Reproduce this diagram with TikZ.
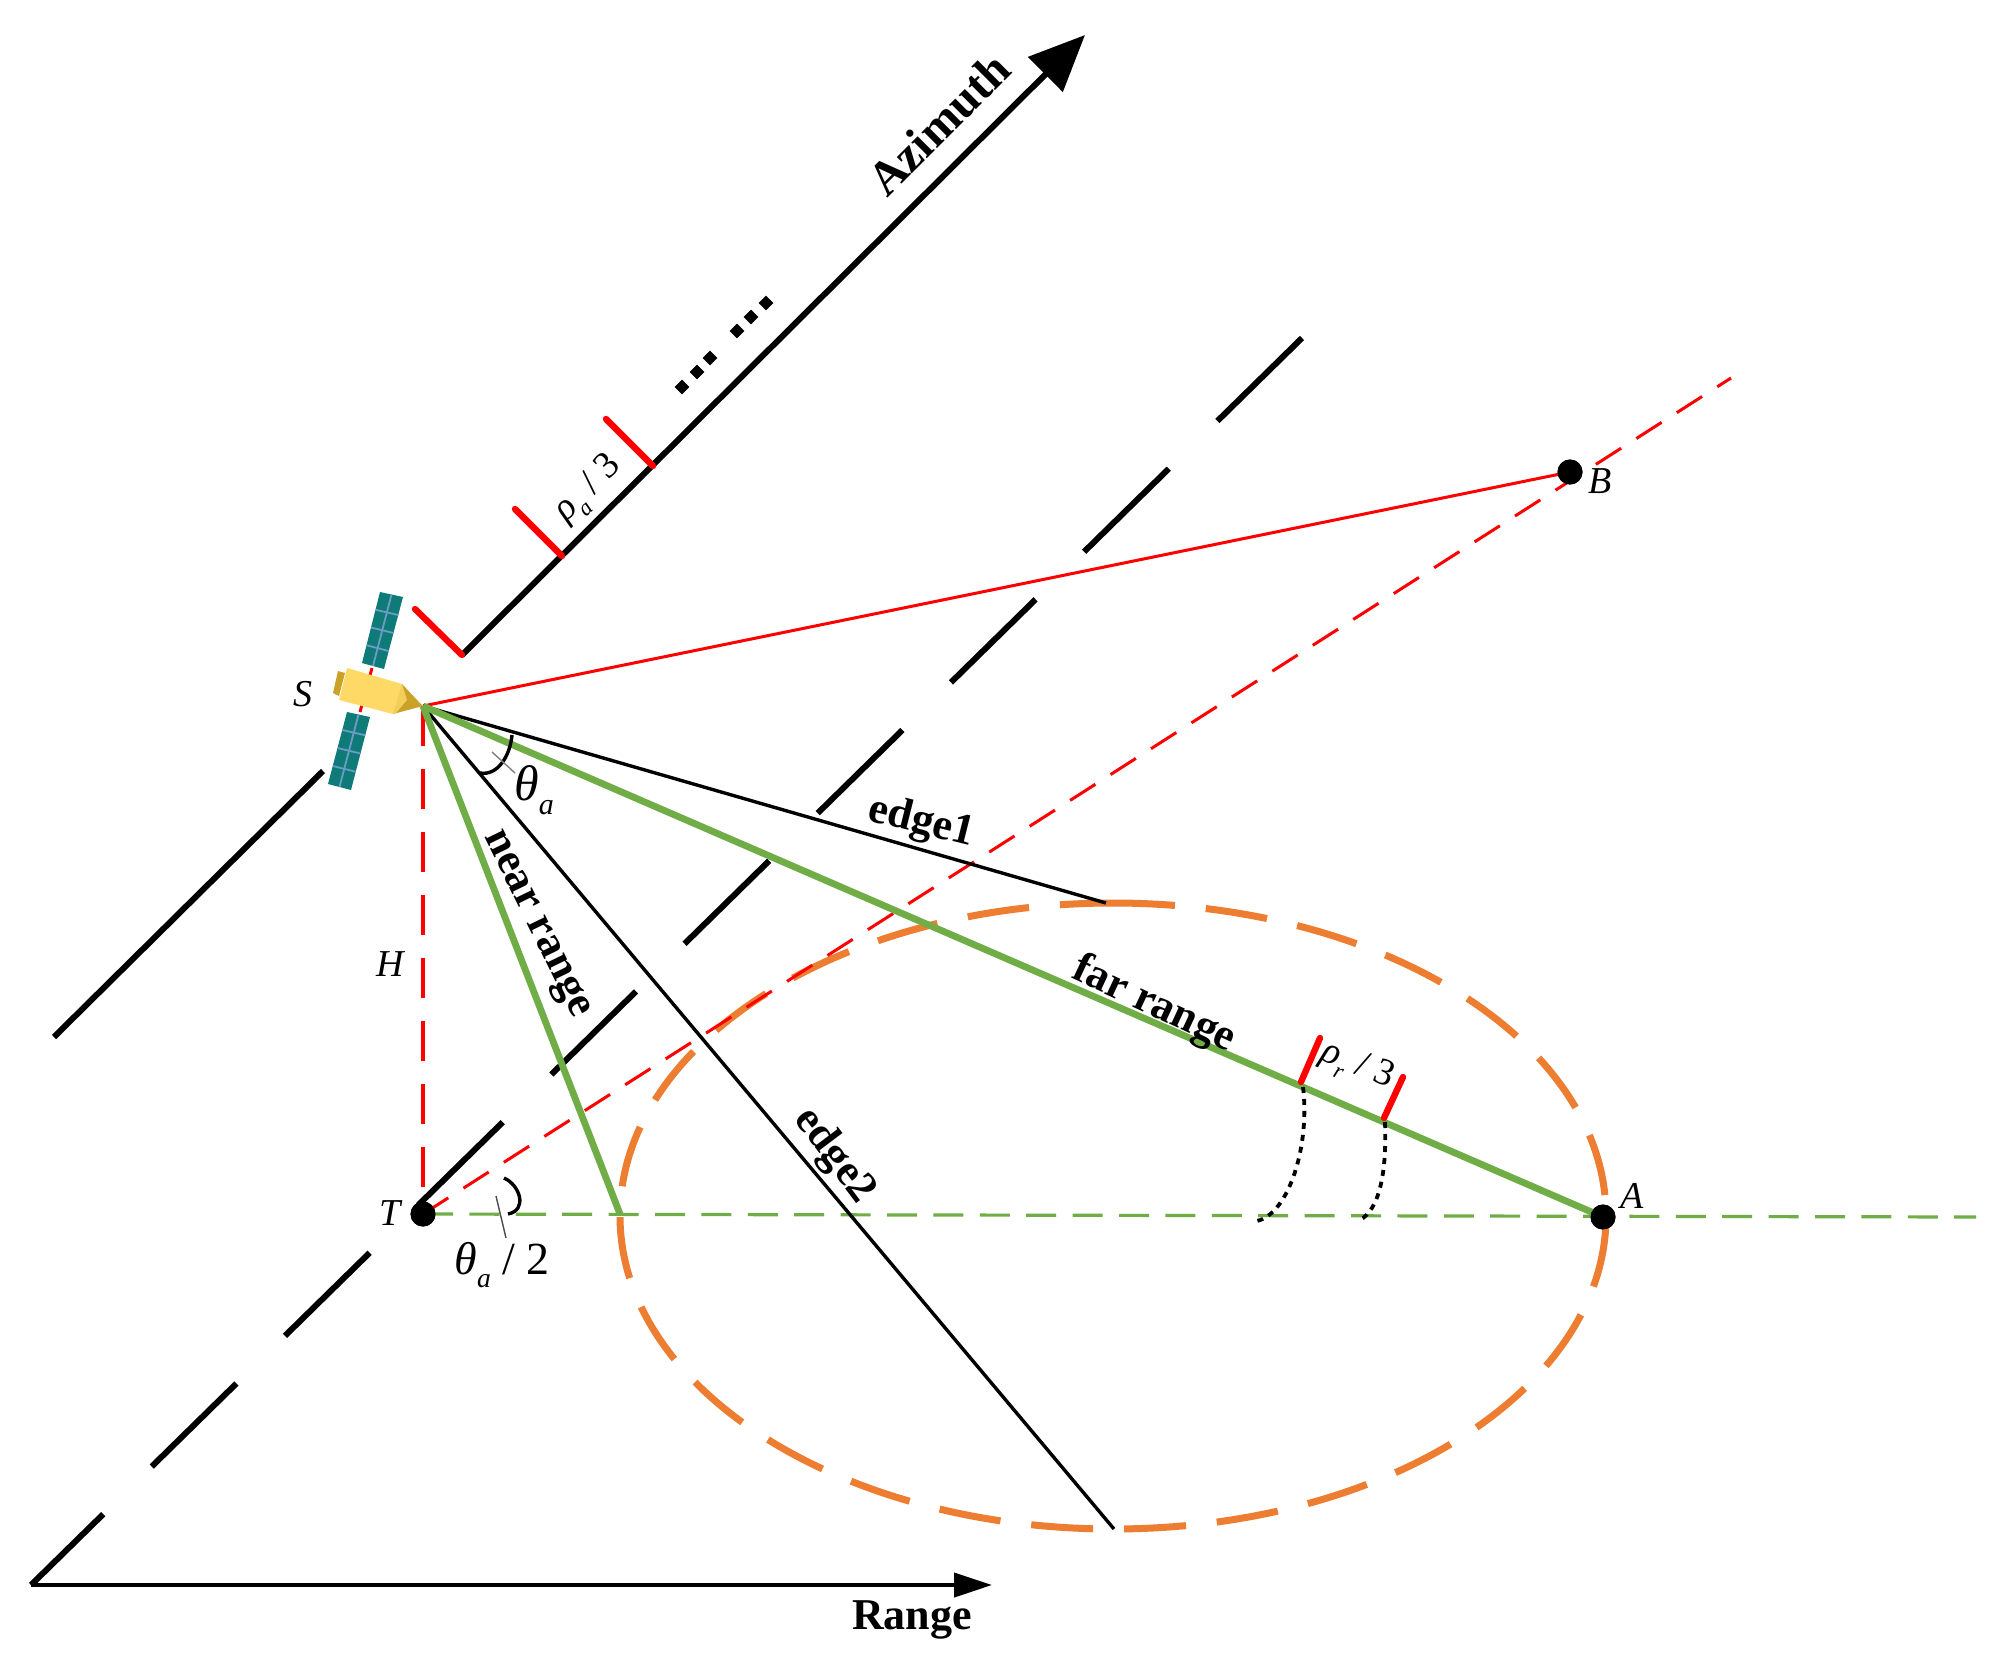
\documentclass[tikz,border=0pt]{standalone}
\usepackage{fontspec}
\setmainfont{Liberation Serif}
\usetikzlibrary{arrows.meta,calc}
\definecolor{sarred}{HTML}{FF0000}
\definecolor{sargreen}{HTML}{70AD47}
\definecolor{sarorange}{HTML}{ED7D31}
\definecolor{panelteal}{HTML}{0F7B78}
\definecolor{panelblue}{HTML}{6C9BC4}
\definecolor{bodyyellow}{HTML}{FFD966}
\definecolor{bodygold}{HTML}{C9A227}
\newcommand{\fsz}[1]{\fontsize{#1}{#1}\selectfont}
\newcommand{\subi}[1]{\raisebox{-.28em}{\fontsize{.6em}{.6em}\selectfont\itshape #1}}
\newcommand{\satpanel}[4]{%
  \fill[panelteal] (#1) -- (#2) -- (#3) -- (#4) -- cycle;
  \draw[panelblue,line width=.9pt] ($(#1)!.5!(#2)$) -- ($(#4)!.5!(#3)$);
  \foreach \t in {.25,.5,.75}{\draw[panelblue,line width=.9pt] ($(#1)!\t!(#4)$) -- ($(#2)!\t!(#3)$);}
}
\tikzset{
  thickblack/.style={black,line width=3pt},
  tickred/.style={sarred,line width=3.2pt,line cap=round},
  thinred/.style={sarred,line width=1.5pt},
  reddash/.style={sarred,line width=1.5pt,dash pattern=on 15pt off 9pt},
  reddashv/.style={sarred,line width=1.6pt,dash pattern=on 20pt off 11.5pt},
  greenfat/.style={sargreen,line width=3.4pt},
  greendash/.style={sargreen,line width=1.6pt,dash pattern=on 15pt off 8.2pt},
  edgeline/.style={black,line width=1.7pt},
  dotcurve/.style={black,line width=1.9pt,dash pattern=on 3pt off 3pt},
  ptdot/.style={circle,fill=black,minimum size=12.5pt,inner sep=0pt},
  sq/.style={rectangle,fill=black,minimum size=5.2pt,inner sep=0pt,rotate=45},
  lab/.style={inner sep=0pt,font=\fsz{19}\itshape},
  blab/.style={inner sep=0pt,font=\fsz{22}\bfseries},
}
\begin{document}
\begin{tikzpicture}[x=0.5pt,y=-0.5pt]
\useasboundingbox (0,0) rectangle (2008,1659);
\fill[white] (0,0) rectangle (2008,1659);
% key points
\coordinate (S) at (423,706);
\node[ptdot] (T) at (423,1214) {};
\node[ptdot] (A) at (1603,1217) {};
\node[ptdot] (B) at (1570,472) {};
\coordinate (N) at (620,1214);
\coordinate (E1) at (1106,903);
\coordinate (E2) at (1114,1529);
\coordinate (RedEnd) at (1731,378);
\coordinate (GreenEnd) at (1976,1217);
\coordinate (O) at (31,1585);
\coordinate (RangeTip) at (992,1585);
\coordinate (AzS) at (462,655);
\coordinate (AzE) at (1085,35);
% ellipse
\draw[sarorange,line width=3.5pt,dash pattern=on 31pt off 15.5pt]
  (1113,903) arc[start angle=-90,end angle=270,x radius=493,y radius=313];
% ground lines
\coordinate (D1) at (1302,338);
\coordinate (L1) at (323,771);
\coordinate (L2) at (54,1037);
\draw[thickblack,dash pattern=on 59.3pt off 34pt] (D1) -- (O);
\draw[thickblack] (L1) -- (L2);
% axes
\draw[black,line width=2pt,-{Triangle[length=19pt,width=12pt]}] (O) -- (RangeTip);
\draw[thickblack,-{Triangle[length=28pt,width=24pt]}] (AzS) -- (AzE);
% red ticks on azimuth
\coordinate (a1) at (462,655); \coordinate (a1e) at (415,609);
\coordinate (a2) at (562,556); \coordinate (a2e) at (515,509);
\coordinate (a3) at (653,466); \coordinate (a3e) at (606,419);
\draw[tickred] (a1) -- (a1e);
\draw[tickred] (a2) -- (a2e);
\draw[tickred] (a3) -- (a3e);
\node[sq] (q1) at (682,387) {};
\node[sq] (q2) at (697,372) {};
\node[sq] (q3) at (710,358) {};
\node[sq] (q4) at (737,331) {};
\node[sq] (q5) at (751,317) {};
\node[sq] (q6) at (766,303) {};
% rays
\draw[reddash] (T.center) -- (RedEnd);
\draw[greendash] (T.center) -- (GreenEnd);
\draw[reddashv] (S) -- (T.center);
\draw[thinred] (S) -- (B.center);
\draw[edgeline] (S) -- (E1);
\draw[edgeline] (S) -- (E2);
\draw[greenfat] (S) -- (A.center);
\draw[greenfat] (S) -- (N);
% range ticks
\coordinate (r1) at (1301,1082); \coordinate (r1e) at (1320,1038);
\coordinate (r2) at (1384,1118); \coordinate (r2e) at (1403,1077);
\draw[tickred] (r1) -- (r1e);
\draw[tickred] (r2) -- (r2e);
\draw[dotcurve] (1303,1087) .. controls (1310,1143) and (1290,1213) .. (1257,1221);
\draw[dotcurve] (1385,1122) .. controls (1387,1177) and (1378,1210) .. (1360,1220);
% angle marks
\draw[black,line width=1.7pt] (512,735) .. controls (510,757) and (497,776) .. (480,773);
\draw[gray,line width=.7pt] (492,752) -- (515,773);
\draw[black,line width=1.7pt] (504,1178) .. controls (520,1185) and (528,1210) .. (508,1214);
\draw[black!70,line width=.7pt] (496,1196) -- (506,1238);
% points on top
\node[ptdot] at (T) {};
\node[ptdot] at (A) {};
\node[ptdot] at (B) {};
% satellite
\draw[thinred] (372,668) -- (360,712);
\satpanel{380,592}{403,597}{384,669}{362,663}
\satpanel{347,712}{370,717}{351,790}{328,784}
\fill[bodygold] (338,671) -- (345,673) -- (339,696) -- (333,693) -- cycle;
\fill[bodygold] (402,684) -- (418,701) -- (423,706) -- (393,714) -- cycle;
\fill[bodyyellow!80!bodygold] (402,684) -- (407,700) -- (396,713) -- (393,714) -- cycle;
\fill[bodyyellow] (347,668) -- (402,684) -- (393,714) -- (339,700) -- cycle;
% labels
\node[lab] (lS) at (303,694) {S};
\node[lab] (lT) at (390,1213) {T};
\node[lab] (lH) at (390,964) {H};
\node[lab] (lA) at (1632,1196) {A};
\node[lab] (lB) at (1600,481) {B};
\node[lab,font=\fsz{25}\itshape] (lta) at (534,790) {θ\subi{a}};
\node[lab,font=\fsz{23}] (lta2) at (502,1265) {\textit{θ}\subi{a} / 2};
\node[lab,font=\fsz{19},rotate=45] (lra) at (589,490) {\textit{ρ}\subi{a} / 3};
\node[lab,font=\fsz{19},rotate=-22] (lrr) at (1357,1067) {\textit{ρ}\subi{r} / 3};
\node[blab,font=\fsz{24}\bfseries,rotate=45] (laz) at (939,124) {Azimuth};
\node[blab] (lrg) at (912,1620) {Range};
\node[blab,rotate=-14] (le1) at (921,823) {edge1};
\node[blab,rotate=-53] (le2) at (834,1156) {edge2};
\node[blab,rotate=-64] (lnr) at (535,925) {near range};
\node[blab,rotate=-25] (lfr) at (1154,1005) {far range};
\end{tikzpicture}
\end{document}
